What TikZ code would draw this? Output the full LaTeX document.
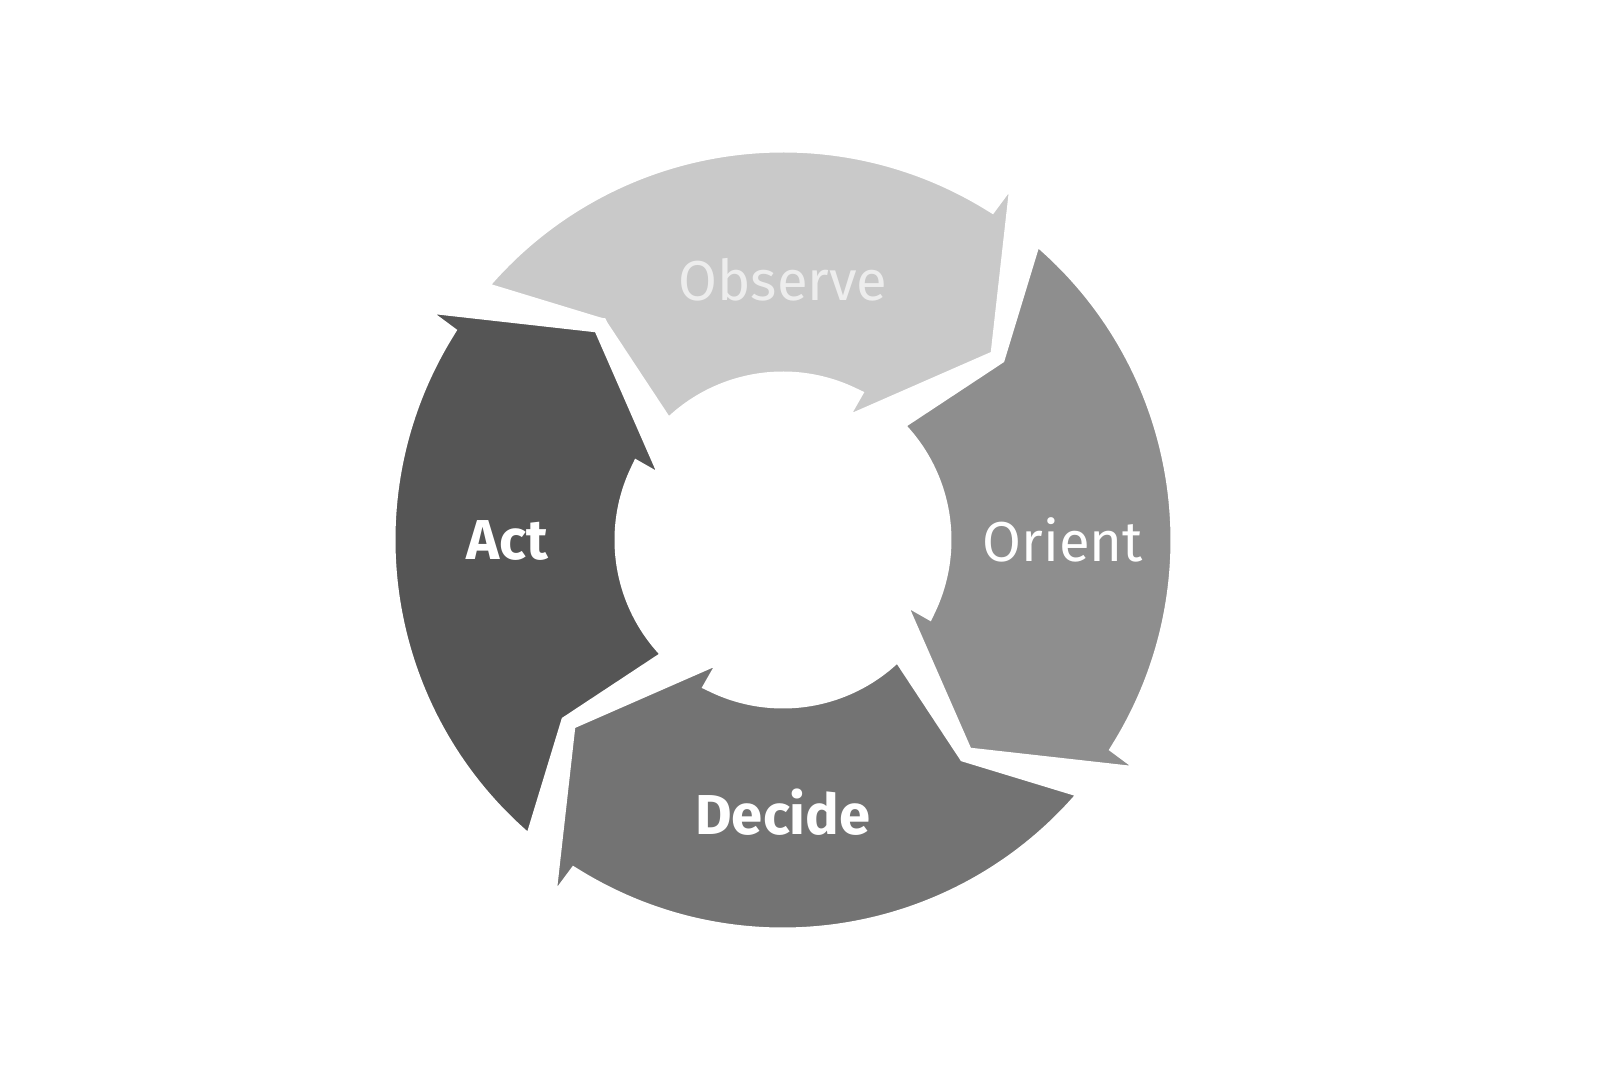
\documentclass[tikz,border=0pt]{standalone}
\usepackage{fontspec}
\setmainfont{Fira Sans}
\definecolor{cobs}{HTML}{C9C9C9}
\definecolor{cori}{HTML}{8E8E8E}
\definecolor{cdec}{HTML}{737373}
\definecolor{cact}{HTML}{555555}
\tikzset{seg/.style={fill=#1, draw=white, line width=0.15cm, line join=miter},
  lab/.style={text=white, font=\fontsize{16}{19}\selectfont}}
\begin{document}
\begin{tikzpicture}
\useasboundingbox (-7.83,-5.40) rectangle (8.15,5.40);
\foreach \k/\c in {0/cobs,1/cori,2/cdec,3/cact}{
  \begin{scope}[rotate=-90*\k]
  \fill[seg=\c] (140.4:3.95) arc[start angle=140.4, end angle=58.2, radius=3.95]
    -- (57.7:4.42) -- (40.4:2.82) -- (65:1.23) -- (63.9:1.61)
    arc[start angle=63.9, end angle=135.7, radius=1.61] -- (130.4:2.82) -- cycle;
  \end{scope}
}
\node[lab, text=white!93!black] (obs) at (0,2.60) {Observe};
\node[lab] (ori) at (2.80,0) {Orient};
\node[lab, font=\fontsize{16}{19}\selectfont\bfseries] (dec) at (0,-2.72) {Decide};
\node[lab, font=\fontsize{16}{19}\selectfont\bfseries] (act) at (-2.76,0) {Act};
\end{tikzpicture}
\end{document}
